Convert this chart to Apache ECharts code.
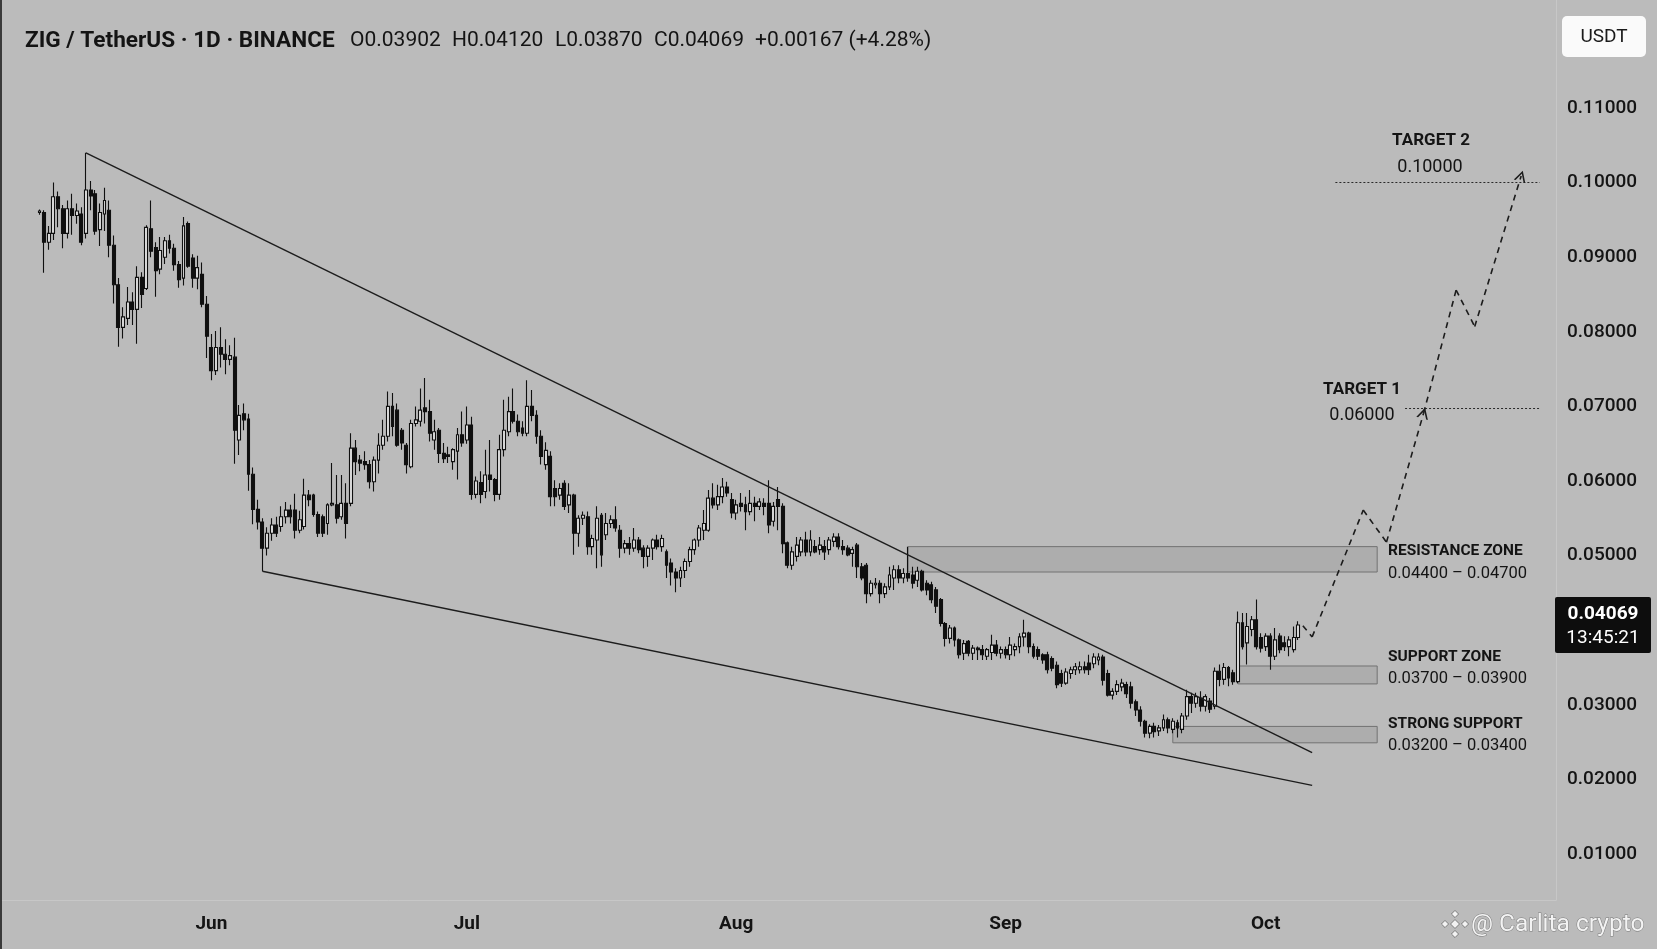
<!DOCTYPE html>
<html>
<head>
<meta charset="utf-8" />
<title>ZIG / TetherUS</title>
<style>
  html, body { margin: 0; padding: 0; background: #bbbbbb; }
  #chart { width: 1657px; height: 949px; }
</style>
</head>
<body>
<div id="chart"></div>
<script src="https://cdn.jsdelivr.net/npm/echarts@6.0.0/dist/echarts.min.js"></script>
<script>
  // daily candles, each [open, close, low, high]
  var candlesMay = [
    [0.0960,0.0962,0.0957,0.0964],[0.0960,0.0920,0.0879,0.0963],[0.0920,0.0932,0.0910,0.0942],
    [0.0932,0.0981,0.0923,0.1000],[0.0981,0.0965,0.0940,0.0988],[0.0965,0.0932,0.0912,0.0970],
    [0.0932,0.0965,0.0925,0.0976],[0.0965,0.0956,0.0930,0.0985],[0.0956,0.0962,0.0945,0.0972],
    [0.0958,0.0920,0.0916,0.0967],[0.0932,0.0990,0.0925,0.1040],[0.0990,0.0982,0.0963,0.1002],
    [0.0985,0.0935,0.0930,0.0990],[0.0937,0.0960,0.0915,0.0972],[0.0958,0.0976,0.0935,0.0993],
    [0.0963,0.0916,0.0900,0.0976],[0.0916,0.0863,0.0838,0.0929],[0.0863,0.0806,0.0780,0.0872],
    [0.0806,0.0820,0.0791,0.0833],[0.0818,0.0840,0.0809,0.0860],[0.0840,0.0830,0.0809,0.0853],
    [0.0830,0.0873,0.0784,0.0888],[0.0873,0.0850,0.0832,0.0880],[0.0858,0.0940,0.0856,0.0943],
    [0.0938,0.0908,0.0900,0.0976],[0.0913,0.0882,0.0847,0.0920],[0.0884,0.0909,0.0877,0.0927],
    [0.0900,0.0922,0.0891,0.0927],[0.0922,0.0912,0.0905,0.0930],[0.0912,0.0890,0.0882,0.0918],
    [0.0890,0.0870,0.0859,0.0895],[0.0872,0.0942,0.0862,0.0954],[0.0945,0.0888,0.0886,0.0948],
    [0.0899,0.0872,0.0859,0.0904],[0.0872,0.0886,0.0857,0.0902],[0.0877,0.0837,0.0833,0.0893],
    [0.0837,0.0794,0.0765,0.0848],[0.0779,0.0748,0.0735,0.0797],[0.0748,0.0779,0.0742,0.0801],
    [0.0779,0.0770,0.0752,0.0806],[0.0770,0.0763,0.0743,0.0790],[0.0763,0.0768,0.0755,0.0782],
    [0.0766,0.0668,0.0623,0.0792],[0.0655,0.0688,0.0635,0.0702],[0.0690,0.0682,0.0668,0.0704],
    [0.0683,0.0609,0.0587,0.0690],[0.0609,0.0562,0.0542,0.0618],[0.0562,0.0545,0.0535,0.0575],
    [0.0545,0.0510,0.0479,0.0550],[0.0510,0.0530,0.0500,0.0538],[0.0530,0.0541,0.0520,0.0550]
  ];
  var candlesJul = [
    [0.0541,0.0530,0.0525,0.0552],[0.0539,0.0552,0.0532,0.0566],[0.0552,0.0561,0.0543,0.0572],
    [0.0561,0.0552,0.0543,0.0568],[0.0561,0.0534,0.0523,0.0583],[0.0534,0.0548,0.0530,0.0560],
    [0.0539,0.0581,0.0535,0.0603],[0.0581,0.0575,0.0566,0.0588],[0.0581,0.0555,0.0552,0.0583],
    [0.0555,0.0530,0.0525,0.0559],[0.0552,0.0530,0.0525,0.0555],[0.0543,0.0568,0.0528,0.0570],
    [0.0568,0.0570,0.0566,0.0624],[0.0568,0.0550,0.0543,0.0608],[0.0552,0.0570,0.0548,0.0608],
    [0.0570,0.0543,0.0523,0.0597],[0.0570,0.0644,0.0566,0.0664],[0.0644,0.0626,0.0608,0.0655],
    [0.0628,0.0624,0.0613,0.0635],[0.0626,0.0622,0.0615,0.0640],[0.0622,0.0599,0.0590,0.0628],
    [0.0599,0.0628,0.0586,0.0633],[0.0628,0.0648,0.0610,0.0664],[0.0648,0.0660,0.0642,0.0682],
    [0.0660,0.0700,0.0653,0.0720],[0.0700,0.0673,0.0660,0.0718],[0.0695,0.0648,0.0646,0.0704],
    [0.0668,0.0651,0.0642,0.0671],[0.0648,0.0622,0.0610,0.0651],[0.0619,0.0677,0.0617,0.0682],
    [0.0677,0.0682,0.0673,0.0700],[0.0680,0.0695,0.0673,0.0724],[0.0698,0.0693,0.0677,0.0738],
    [0.0693,0.0664,0.0653,0.0709],[0.0655,0.0666,0.0642,0.0682],[0.0668,0.0637,0.0624,0.0671],
    [0.0637,0.0630,0.0624,0.0651],[0.0635,0.0633,0.0624,0.0646],[0.0626,0.0642,0.0615,0.0644],
    [0.0640,0.0662,0.0602,0.0671],[0.0662,0.0651,0.0646,0.0693],[0.0655,0.0675,0.0650,0.0700],
    [0.0675,0.0582,0.0575,0.0686],[0.0582,0.0600,0.0577,0.0606],[0.0598,0.0582,0.0570,0.0613],
    [0.0586,0.0608,0.0577,0.0642],[0.0608,0.0602,0.0586,0.0655],[0.0602,0.0582,0.0573,0.0604],
    [0.0582,0.0642,0.0575,0.0662],[0.0642,0.0668,0.0633,0.0709],[0.0666,0.0693,0.0660,0.0713],
    [0.0693,0.0680,0.0677,0.0724],[0.0680,0.0666,0.0660,0.0689],[0.0671,0.0664,0.0660,0.0680],
    [0.0664,0.0700,0.0660,0.0735],[0.0700,0.0688,0.0680,0.0722],[0.0688,0.0660,0.0650,0.0695],
    [0.0660,0.0633,0.0622,0.0668],[0.0622,0.0641,0.0615,0.0652],[0.0633,0.0579,0.0566,0.0640]
  ];
  var candlesAug = [
    [0.0590,0.0579,0.0566,0.0601],[0.0581,0.0590,0.0575,0.0597],[0.0597,0.0566,0.0561,0.0601],
    [0.0568,0.0581,0.0557,0.0597],[0.0581,0.0530,0.0501,0.0583],[0.0530,0.0550,0.0512,0.0554],
    [0.0550,0.0554,0.0541,0.0559],[0.0552,0.0512,0.0501,0.0559],[0.0512,0.0523,0.0501,0.0528],
    [0.0521,0.0550,0.0483,0.0566],[0.0554,0.0501,0.0485,0.0557],[0.0528,0.0543,0.0521,0.0557],
    [0.0543,0.0548,0.0537,0.0554],[0.0548,0.0537,0.0532,0.0566],[0.0534,0.0510,0.0497,0.0541],
    [0.0510,0.0516,0.0503,0.0521],[0.0516,0.0510,0.0501,0.0525],[0.0510,0.0521,0.0505,0.0537],
    [0.0521,0.0508,0.0503,0.0525],[0.0510,0.0499,0.0483,0.0514],[0.0499,0.0510,0.0485,0.0514],
    [0.0510,0.0521,0.0494,0.0523],[0.0521,0.0512,0.0508,0.0528],[0.0512,0.0523,0.0505,0.0528],
    [0.0505,0.0487,0.0470,0.0508],[0.0490,0.0478,0.0460,0.0496],[0.0478,0.0470,0.0451,0.0483],
    [0.0470,0.0480,0.0458,0.0485],[0.0480,0.0492,0.0470,0.0496],[0.0492,0.0508,0.0485,0.0512],
    [0.0508,0.0521,0.0501,0.0523],[0.0521,0.0537,0.0512,0.0541],[0.0534,0.0543,0.0521,0.0561],
    [0.0534,0.0577,0.0532,0.0588],[0.0577,0.0568,0.0563,0.0597],[0.0568,0.0579,0.0561,0.0595],
    [0.0579,0.0592,0.0570,0.0604],[0.0592,0.0584,0.0579,0.0599],[0.0575,0.0557,0.0550,0.0584],
    [0.0557,0.0568,0.0548,0.0575],[0.0570,0.0566,0.0559,0.0584],[0.0568,0.0559,0.0534,0.0579],
    [0.0559,0.0570,0.0554,0.0588],[0.0570,0.0566,0.0546,0.0579],[0.0566,0.0572,0.0561,0.0577],
    [0.0570,0.0566,0.0554,0.0577],[0.0570,0.0541,0.0530,0.0601],[0.0546,0.0566,0.0539,0.0572],
    [0.0575,0.0566,0.0534,0.0592],[0.0566,0.0516,0.0503,0.0570]
  ];
  var candlesSep = [
    [0.0517,0.0487,0.0483,0.0519],[0.0487,0.0505,0.0481,0.0512],[0.0499,0.0514,0.0492,0.0525],
    [0.0505,0.0521,0.0499,0.0525],[0.0521,0.0505,0.0499,0.0532],[0.0505,0.0521,0.0499,0.0534],
    [0.0512,0.0505,0.0503,0.0521],[0.0508,0.0514,0.0501,0.0525],[0.0512,0.0505,0.0494,0.0521],
    [0.0508,0.0521,0.0501,0.0525],[0.0519,0.0525,0.0512,0.0530],[0.0525,0.0512,0.0508,0.0530],
    [0.0512,0.0508,0.0501,0.0521],[0.0510,0.0501,0.0499,0.0514],[0.0503,0.0508,0.0485,0.0512],
    [0.0514,0.0485,0.0470,0.0517],[0.0485,0.0470,0.0467,0.0490],[0.0487,0.0449,0.0436,0.0490],
    [0.0449,0.0463,0.0445,0.0467],[0.0461,0.0463,0.0456,0.0470],[0.0463,0.0449,0.0436,0.0467],
    [0.0449,0.0458,0.0443,0.0463],[0.0458,0.0474,0.0454,0.0485],[0.0470,0.0481,0.0454,0.0487],
    [0.0481,0.0470,0.0463,0.0487],[0.0470,0.0476,0.0463,0.0483],[0.0476,0.0470,0.0465,0.0512],
    [0.0474,0.0463,0.0456,0.0485],[0.0467,0.0479,0.0458,0.0485],[0.0479,0.0454,0.0452,0.0481],
    [0.0463,0.0454,0.0447,0.0467],[0.0461,0.0441,0.0436,0.0465],[0.0454,0.0432,0.0423,0.0458],
    [0.0441,0.0409,0.0405,0.0443],[0.0409,0.0389,0.0378,0.0411],[0.0389,0.0403,0.0382,0.0407],
    [0.0403,0.0387,0.0378,0.0405],[0.0387,0.0367,0.0362,0.0389],[0.0369,0.0382,0.0360,0.0387],
    [0.0385,0.0369,0.0365,0.0387],[0.0369,0.0376,0.0360,0.0380],[0.0376,0.0374,0.0360,0.0378],
    [0.0374,0.0367,0.0360,0.0380],[0.0365,0.0374,0.0360,0.0376],[0.0370,0.0380,0.0360,0.0394],
    [0.0380,0.0369,0.0365,0.0387],[0.0369,0.0374,0.0362,0.0378],[0.0374,0.0367,0.0362,0.0378],
    [0.0367,0.0380,0.0360,0.0391],[0.0374,0.0378,0.0365,0.0382],[0.0378,0.0391,0.0369,0.0396],
    [0.0391,0.0396,0.0378,0.0414],[0.0396,0.0378,0.0369,0.0398],[0.0378,0.0365,0.0362,0.0382],
    [0.0374,0.0365,0.0360,0.0378],[0.0367,0.0360,0.0355,0.0369]
  ];
  var candlesOct = [
    [0.0367,0.0347,0.0342,0.0371],[0.0362,0.0349,0.0345,0.0365],[0.0353,0.0327,0.0322,0.0358],
    [0.0342,0.0329,0.0324,0.0347],[0.0329,0.0344,0.0327,0.0349],[0.0342,0.0347,0.0335,0.0351],
    [0.0347,0.0351,0.0340,0.0356],[0.0347,0.0351,0.0342,0.0358],[0.0351,0.0347,0.0342,0.0358],
    [0.0356,0.0347,0.0340,0.0367],[0.0355,0.0364,0.0349,0.0369],[0.0360,0.0364,0.0353,0.0369],
    [0.0364,0.0333,0.0326,0.0367],[0.0342,0.0313,0.0311,0.0347],[0.0313,0.0318,0.0307,0.0322],
    [0.0318,0.0327,0.0313,0.0333],[0.0324,0.0329,0.0318,0.0335],[0.0327,0.0315,0.0309,0.0331],
    [0.0324,0.0302,0.0295,0.0331],[0.0304,0.0293,0.0285,0.0307],[0.0293,0.0278,0.0271,0.0298],
    [0.0278,0.0262,0.0256,0.0280],[0.0262,0.0271,0.0255,0.0274],[0.0271,0.0264,0.0256,0.0276],
    [0.0265,0.0269,0.0258,0.0273],[0.0269,0.0280,0.0265,0.0287],[0.0280,0.0269,0.0262,0.0283],
    [0.0267,0.0278,0.0262,0.0282],[0.0276,0.0269,0.0256,0.0280],[0.0267,0.0285,0.0262,0.0289],
    [0.0285,0.0311,0.0280,0.0320],[0.0311,0.0302,0.0289,0.0316],[0.0302,0.0311,0.0296,0.0316],
    [0.0309,0.0298,0.0291,0.0318],[0.0298,0.0311,0.0291,0.0314],[0.0305,0.0294,0.0289,0.0309],
    [0.0298,0.0345,0.0294,0.0350],[0.0345,0.0334,0.0325,0.0354],[0.0334,0.0350,0.0327,0.0356],
    [0.0350,0.0336,0.0325,0.0352],[0.0343,0.0331,0.0327,0.0347],[0.0331,0.0410,0.0329,0.0425],
    [0.0410,0.0378,0.0374,0.0423],[0.0383,0.0405,0.0354,0.0423],[0.0401,0.0414,0.0392,0.0419],
    [0.0414,0.0378,0.0374,0.0441],[0.0390,0.0376,0.0370,0.0396],[0.0378,0.0392,0.0372,0.0396],
    [0.0392,0.0365,0.0347,0.0396],[0.0365,0.0387,0.0360,0.0403],[0.0392,0.0374,0.0369,0.0396],
    [0.0383,0.0378,0.0372,0.0392],[0.0378,0.0387,0.0365,0.0392],[0.0374,0.03902,0.0370,0.0405],
    [0.03902,0.04069,0.03870,0.04120]
  ];

  // x axis: one slot per candle width, month names where they sit
  var slotCount = 335;
  var firstSlot = 8;
  var monthLabels = ['Jun', 'Jul', 'Aug', 'Sep', 'Oct'];
  var monthSlots = [45, 100, 158, 216, 272];
  var yTicks = [0.01, 0.02, 0.03, 0.04, 0.05, 0.06, 0.07, 0.08, 0.09, 0.10, 0.11];
  var yMin = 0.00383, yMax = 0.12448;

  // drawings, [slot, price]
  var trendUpper = [[18, 0.1040], [282, 0.0236]];
  var trendLower = [[56, 0.0479], [282, 0.0192]];
  var target2Line = [[287, 0.1000], [331, 0.1000]];
  var target1Line = [[302, 0.0697], [331, 0.0697]];
  var projection = [[280, 0.0406], [282, 0.0391], [293, 0.0561], [298, 0.0518],
                    [306, 0.0691], [313, 0.0856], [317, 0.0807], [327, 0.1009]];
  var arrowAt = [4, 7];
  var zones = [
    { name: 'RESISTANCE ZONE', range: '0.04400 \u2013 0.04700', from: [195, 0.0512], to: [296, 0.0478] },
    { name: 'SUPPORT ZONE', range: '0.03700 \u2013 0.03900', from: [266, 0.0352], to: [296, 0.0328] },
    { name: 'STRONG SUPPORT', range: '0.03200 \u2013 0.03400', from: [252, 0.0271], to: [296, 0.0249] }
  ];

  var candles = candlesMay.concat(candlesJul, candlesAug, candlesSep, candlesOct);
  var categories = [];
  for (var i = 0; i < slotCount; i++) categories.push(String(i));
  var seriesData = candles.map(function (c, i) { return [firstSlot + i, c[0], c[1], c[2], c[3]]; });

  var FONT = 'Roboto, "Noto Sans", sans-serif';
  var INK = '#141414';
  var chevron = 'path://M0,12 L6,0 L12,12 L10.2,12 L6,3.6 L1.8,12 Z';

  var lines = [];
  function seg(a, b, style, endSymbol) {
    var end = { coord: b };
    if (endSymbol) { end.symbol = chevron; end.symbolSize = [12, 11]; }
    lines.push([{ coord: a, lineStyle: style, symbol: 'none' }, end]);
  }
  var solid = { color: '#1c1c1c', width: 1.4, type: 'solid' };
  var dotted = { color: '#2a2a2a', width: 1.2, type: [2, 2] };
  var dashed = { color: '#1c1c1c', width: 1.6, type: [6, 5] };
  seg(trendUpper[0], trendUpper[1], solid);
  seg(trendLower[0], trendLower[1], solid);
  seg(target2Line[0], target2Line[1], dotted);
  seg(target1Line[0], target1Line[1], dotted);
  for (var p = 1; p < projection.length; p++) {
    seg(projection[p - 1], projection[p], dashed, arrowAt.indexOf(p) >= 0);
  }

  var option = {
    backgroundColor: '#bbbbbb',
    animation: false,
    grid: { left: 0, right: 101, top: 0, bottom: 49 },
    xAxis: {
      type: 'category',
      data: categories,
      boundaryGap: true,
      axisLine: { show: true, lineStyle: { color: '#c7c7c7', width: 1 } },
      axisTick: { show: false },
      splitLine: { show: false },
      axisLabel: {
        interval: function (index) { return monthSlots.indexOf(index) >= 0; },
        formatter: function (value, index) {
          var k = monthSlots.indexOf(index);
          return k >= 0 ? monthLabels[k] : '';
        },
        color: INK, fontFamily: FONT, fontSize: 19, fontWeight: 'bold', margin: 15
      }
    },
    yAxis: {
      type: 'value',
      position: 'right',
      min: yMin,
      max: yMax,
      axisLine: { show: true, lineStyle: { color: '#c7c7c7', width: 1 } },
      axisTick: { show: false },
      splitLine: { show: false },
      axisLabel: {
        customValues: yTicks,
        formatter: function (v) { return v.toFixed(5); },
        color: INK, fontFamily: FONT, fontSize: 19, fontWeight: 500, margin: 11,
        padding: [4, 0, 0, 0]
      }
    },
    series: [{
      type: 'candlestick',
      data: seriesData,
      encode: { x: 0, y: [1, 2, 3, 4] },
      barWidth: 3.4,
      silent: true,
      itemStyle: {
        color: '#e2e2e2', color0: '#101010',
        borderColor: '#101010', borderColor0: '#101010', borderWidth: 1.1
      },
      markArea: {
        silent: true,
        itemStyle: { color: 'rgba(125,125,125,0.22)', borderColor: '#727272', borderWidth: 1 },
        data: zones.map(function (z) { return [{ coord: z.from }, { coord: z.to }]; })
      },
      markLine: {
        silent: true,
        symbol: ['none', 'none'],
        label: { show: false },
        emphasis: { disabled: true },
        data: lines
      }
    }]
  };

  var chart = echarts.init(document.getElementById('chart'));
  chart.setOption(option);

  // header and annotations
  var last = candles[candles.length - 1];
  var prev = candles[candles.length - 2];
  var change = last[1] - prev[1];
  var headerItems = [
    'O' + last[0].toFixed(5), 'H' + last[3].toFixed(5), 'L' + last[2].toFixed(5),
    'C' + last[1].toFixed(5),
    (change >= 0 ? '+' : '') + change.toFixed(5) + ' (' + (change >= 0 ? '+' : '') + (change / prev[1] * 100).toFixed(2) + '%)'
  ];
  var headerX = [350, 452, 555, 654, 755];

  function txt(x, y, text, font, fill, align, extra) {
    var style = { text: text, font: font, fill: fill || INK, align: align || 'left', verticalAlign: 'middle' };
    if (extra) for (var k in extra) style[k] = extra[k];
    return { type: 'text', x: x, y: y, silent: true, style: style, z: 100 };
  }

  var g = [];
  g.push({ type: 'rect', shape: { x: 0, y: 0, width: 2, height: 949 }, style: { fill: '#3a3a3a' }, silent: true, z: 100 });
  g.push(txt(25, 41, 'ZIG / TetherUS \u00b7 1D \u00b7 BINANCE', 'bold 22.6px ' + FONT));
  headerItems.forEach(function (t, i) { g.push(txt(headerX[i], 41, t, '21px ' + FONT)); });

  g.push({ type: 'rect', shape: { x: 1562, y: 16, width: 84, height: 41, r: 5 }, style: { fill: '#fafafa' }, silent: true, z: 100 });
  g.push(txt(1604, 37.5, 'USDT', '19px ' + FONT, '#1a1a1a', 'center'));

  g.push(txt(1431, 141, 'TARGET 2', 'bold 17px ' + FONT, INK, 'center'));
  g.push(txt(1430, 167, '0.10000', '18px ' + FONT, INK, 'center'));
  g.push(txt(1362, 390, 'TARGET 1', 'bold 17px ' + FONT, INK, 'center'));
  g.push(txt(1362, 415, '0.06000', '18px ' + FONT, INK, 'center'));

  var zoneTextY = [[551.5, 574], [657, 679], [724, 746]];
  zones.forEach(function (z, i) {
    g.push(txt(1388, zoneTextY[i][0], z.name, 'bold 15.5px ' + FONT));
    g.push(txt(1388, zoneTextY[i][1], z.range, '16.5px ' + FONT));
  });

  // last price tag on the axis
  var py = chart.convertToPixel({ xAxisIndex: 0, yAxisIndex: 0 }, [0, last[1]])[1];
  g.push({ type: 'rect', shape: { x: 1555, y: py - 28, width: 96, height: 56, r: 2 }, style: { fill: '#0d0d0d' }, silent: true, z: 100 });
  g.push(txt(1603, py - 11, last[1].toFixed(5), 'bold 19px ' + FONT, '#ffffff', 'center'));
  g.push(txt(1603, py + 13, '13:45:21', '19px ' + FONT, '#ffffff', 'center'));

  // watermark
  var lx = 1455, ly = 924;
  [[0, -10], [-10, 0], [10, 0], [0, 10], [0, 0]].forEach(function (d) {
    var cx = lx + d[0], cy = ly + d[1], s = (d[0] === 0 && d[1] === 0) ? 4.5 : 3.6;
    g.push({ type: 'polygon', shape: { points: [[cx, cy - s], [cx + s, cy], [cx, cy + s], [cx - s, cy]] },
      style: { fill: '#f2f2f2', stroke: '#7c7c7c', lineWidth: 1 }, silent: true, z: 100 });
  });
  g.push(txt(1471, 925, '@ Carlita crypto', '24.5px ' + FONT, '#f3f3f3', 'left', { stroke: '#7c7c7c', lineWidth: 1 }));

  chart.setOption({ graphic: g });
</script>
</body>
</html>
